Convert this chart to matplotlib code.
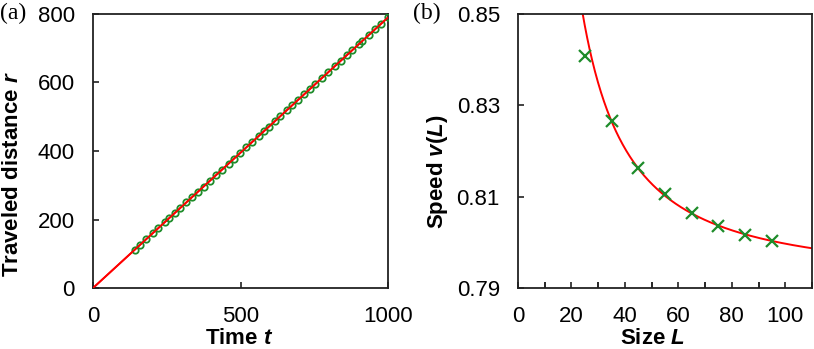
import numpy as np
import matplotlib
matplotlib.use("Agg")
import matplotlib.pyplot as plt
from matplotlib.ticker import MultipleLocator

plt.rcParams['font.family'] = ['Liberation Sans', 'DejaVu Sans']
plt.rcParams['mathtext.fontset'] = 'custom'
plt.rcParams['mathtext.it'] = 'Liberation Sans:italic:bold'
plt.rcParams['mathtext.rm'] = 'Liberation Sans:bold'
plt.rcParams['mathtext.bf'] = 'Liberation Sans:bold'

# ---- data panel (a) ----
time_t = [142, 160, 181, 203, 222, 244, 257, 277, 296, 316, 336, 356, 375, 395,
          418, 437, 460, 479, 499, 520, 539, 562, 579, 596, 616, 635, 658, 675,
          696, 715, 735, 754, 777, 797, 819, 840, 860, 879, 900, 913, 934, 956,
          976, 1000]
distance_r = [112, 126, 143, 160, 175, 193, 203, 219, 234, 250, 265, 281, 296, 312,
              330, 345, 363, 378, 394, 411, 426, 444, 457, 471, 487, 502, 520, 533,
              550, 565, 581, 596, 614, 630, 647, 664, 679, 694, 711, 721, 738, 755,
              771, 790]
fit_speed_a = 0.79  # slope of linear fit r = v t
fit_line_t = [0, 1000]

# ---- data panel (b) ----
size_L = [25, 35, 45, 55, 65, 75, 85, 95]
speed_v = [0.8408, 0.8266, 0.8163, 0.8105, 0.8064, 0.8036, 0.8015, 0.8002]
fit_vinf, fit_b, fit_c = 0.7917, 5.05, 1.4  # v(L) = v_inf + b L^-c

green = '#1e8c2a'
W, H = 814, 349
fig = plt.figure(figsize=(W / 100, H / 100), dpi=100)

axa = fig.add_axes([93 / W, (H - 288) / H, 295 / W, 274 / H])
axb = fig.add_axes([518 / W, (H - 288) / H, 294 / W, 274 / H])

for ax in (axa, axb):
    for s in ax.spines.values():
        s.set_linewidth(1.3)
        s.set_color('#222222')
    ax.tick_params(direction='in', length=4, width=1.2, labelsize=16,
                   top=False, right=False, pad=13, colors='#222222', labelcolor='black')
    ax.tick_params(which='minor', direction='in', length=4, width=1.2,
                   top=False, right=False)

# panel (a)
ft = np.array(fit_line_t, dtype=float)
axa.plot(ft, fit_speed_a * ft, color='red', lw=1.4, zorder=2)
axa.plot(time_t, distance_r, linestyle='none', marker='o', ms=4.6, mfc='none',
         mec=green, mew=1.3, zorder=3)
axa.plot(ft, fit_speed_a * ft, color='red', lw=1.2, zorder=4)
axa.set_xlim(0, 1000)
axa.set_ylim(0, 800)
axa.xaxis.set_major_locator(MultipleLocator(500))
axa.yaxis.set_major_locator(MultipleLocator(200))

# panel (b)
Lc = np.linspace(20, 110, 400)
axb.plot(Lc, fit_vinf + fit_b * Lc ** (-fit_c), color='red', lw=1.4, zorder=2)
axb.plot(size_L, speed_v, linestyle='none', marker='x', ms=9, mec=green,
         mew=1.6, zorder=3)
axb.set_xlim(0, 110)
axb.set_ylim(0.79, 0.85)
axb.xaxis.set_major_locator(MultipleLocator(20))
axb.xaxis.set_minor_locator(MultipleLocator(10))
axb.set_yticks([0.79, 0.81, 0.83, 0.85])
axb.set_yticklabels(['0.79', '0.81', '0.83', '0.85'])

# axis labels placed in figure pixels
def ftext(x, y, s, **kw):
    fig.text(x / W, 1 - y / H, s, **kw)

ftext(239, 344, r'Time $t$', fontsize=16, fontweight='bold', ha='center', va='baseline')
ftext(652, 344, r'Size $L$', fontsize=16, fontweight='bold', ha='center', va='baseline')
ftext(13, 174, r'Traveled distance $r$', fontsize=16, fontweight='bold',
      rotation=90, ha='center', va='center')
ftext(437, 172, r'Speed $v(L)$', fontsize=16, fontweight='bold',
      rotation=90, ha='center', va='center')

ftext(0, 13, '(a)', fontsize=17, family='Liberation Serif', ha='left', va='center')
ftext(413, 13, '(b)', fontsize=17, family='Liberation Serif', ha='left', va='center')

fig.savefig('out.png', dpi=100)
